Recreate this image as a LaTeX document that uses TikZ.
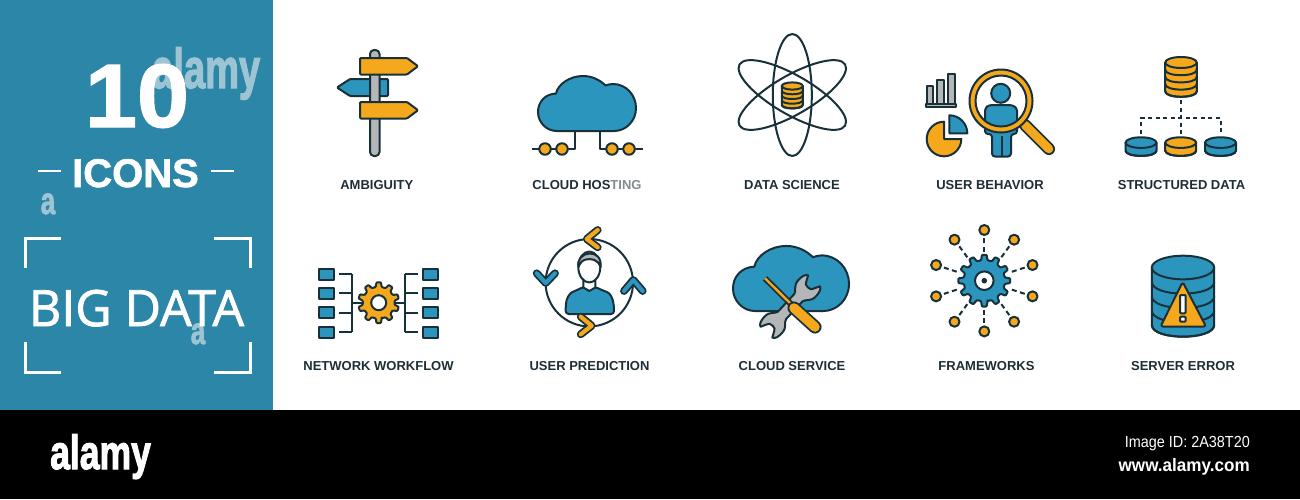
\documentclass[tikz,border=0pt]{standalone}
\usepackage{fontspec}
\setmainfont{Liberation Sans}
\newfontfamily\bannerfont{Open Sans}[FakeBold=1.6]
\newfontfamily\heavyfont{Liberation Sans}[BoldFeatures={FakeBold=1.5}]
\newfontfamily\markfont{Liberation Sans}[BoldFeatures={FakeBold=2.5}]
\usetikzlibrary{calc, positioning}

\definecolor{panelblue}{HTML}{2B86A8}
\definecolor{iconblue}{HTML}{2C95BE}
\definecolor{iconorange}{HTML}{F6A81C}
\definecolor{icongray}{HTML}{B4B6B8}
\definecolor{inkc}{HTML}{17303A}
\definecolor{labelc}{HTML}{1F2E36}
\definecolor{markc}{HTML}{9DC4D3}

% stack of disks: cx, top, half width, ry, layers, layer step, fill
\newcommand{\diskstack}[7]{%
  \begin{scope}[shift={(#1,#2)}]
    \pgfmathsetmacro{\stackh}{#5*#6}
    \pgfmathsetmacro{\stackk}{1.33*#4}
    \draw[inkline, fill=#7] (-#3,0) -- (-#3,\stackh)
      .. controls ({-#3},{\stackh+\stackk}) and (#3,{\stackh+\stackk}) .. (#3,\stackh) -- (#3,0) -- cycle;
    \foreach \lyr in {1,...,#5}
      \draw[inkline] (-#3,{\lyr*#6}) .. controls ({-#3},{\lyr*#6+\stackk}) and (#3,{\lyr*#6+\stackk}) .. (#3,{\lyr*#6});
    \draw[inkline, fill=#7] (0,0) ellipse [x radius=#3, y radius=#4];
  \end{scope}}

% toothed wheel: cx, cy, teeth, outer radius, root radius, fill
\newcommand{\cogwheel}[6]{%
  \begin{scope}[shift={(#1,#2)}]
    \pgfmathsetmacro{\cogstep}{360/#3}
    \draw[inkline, fill=#6, rounded corners=.8pt] ({90-.3*\cogstep}:#5)
      \foreach \k [evaluate=\k as \cogang using 90+(\k-1)*\cogstep] in {1,...,#3} {
        -- ({\cogang-.3*\cogstep}:#5) -- ({\cogang-.17*\cogstep}:#4)
        -- ({\cogang+.17*\cogstep}:#4) -- ({\cogang+.3*\cogstep}:#5)
      } -- cycle;
  \end{scope}}

\tikzset{
  pics/cloudshape/.style={code={
    \draw[inkline, fill=iconblue] (-30,27.5) .. controls (-41,27.5) and (-49,18.5) .. (-49,8.5)
      .. controls (-49,-1.5) and (-42,-9.5) .. (-31,-10)
      .. controls (-29,-19.5) and (-17,-27.5) .. (-4,-27.5)
      .. controls (5,-27.5) and (13,-23.5) .. (18.5,-18)
      .. controls (21,-19) and (24,-19.5) .. (26,-19.5)
      .. controls (39,-19.5) and (49,-8.5) .. (49,4.5)
      .. controls (49,17.5) and (39,27.5) .. (27,27.5) -- cycle;
  }}}

\begin{document}
\begin{tikzpicture}[x=1pt, y=-1pt,
    inkline/.style={draw=inkc, line width=2pt, line join=round},
    iconlabel/.style={font=\bfseries\fontsize{13}{14}\selectfont, text=labelc, inner sep=0pt},
    chevron/.style={draw=inkc, line width=1.8pt, double=#1, double distance=4.2pt,
                    line cap=round, line join=round},
    datacell/.style={inkline, fill=iconblue, minimum width=15pt, minimum height=11pt, inner sep=0pt},
    fwdot/.style={circle, inkline, fill=iconorange, minimum size=10pt, inner sep=0pt},
    wiredot/.style={circle, inkline, fill=iconorange, minimum size=11.5pt, inner sep=0pt},
    spoke/.style={draw=inkc, line width=2pt, dash pattern=on 5pt off 3.5pt},
    corner/.style={draw=white, line width=3pt, line cap=butt},
    watermark/.style={text=markc, font=\markfont\bfseries, inner sep=0pt}]

  \useasboundingbox (0,0) rectangle (1300,499);
  \fill[white] (0,0) rectangle (1300,499);
  \fill[panelblue] (0,0) rectangle (272.5,410);
  \fill[black] (0,410) rectangle (1300,499);

  % Left panel
  \node[watermark, anchor=base west] (markbig) at (152,88) {\fontsize{56}{56}\selectfont\scalebox{.68}[1]{alamy}};
  \node[watermark, anchor=base] (marka) at (48,214) {\fontsize{38}{38}\selectfont\scalebox{.68}[1]{a}};
  \node[watermark, anchor=base] (markb) at (198,344) {\fontsize{38}{38}\selectfont\scalebox{.68}[1]{a}};
  \node[text=white, font=\heavyfont\bfseries\fontsize{90}{90}\selectfont, inner sep=0pt, anchor=base] (tenlabel) at (137,127) {\scalebox{1.04}[1]{10}};
  \node[text=white, font=\heavyfont\bfseries\fontsize{40}{40}\selectfont, inner sep=0pt, anchor=base] (iconslabel) at (135.5,187) {ICONS};
  \draw[draw=white, line width=2pt] (38,171) -- (61,171);
  \draw[draw=white, line width=2pt] (211,171) -- (234,171);
  \draw[corner] (25,268) -- (25,238) -- (61,238);
  \draw[corner] (214,238) -- (250,238) -- (250,268);
  \draw[corner] (25,342) -- (25,372) -- (61,372);
  \draw[corner] (214,372) -- (250,372) -- (250,342);
  \node[text=white, font=\bannerfont\fontsize{50}{50}\selectfont, inner sep=0pt, anchor=base] (biglabel) at (136.5,326) {BIG DATA};

  % Ambiguity
  \draw[inkline, fill=iconblue, rounded corners=1pt] (337,87.5) -- (350,79) -- (388,79) -- (388,96) -- (350,96) -- cycle;
  \draw[inkline, fill=icongray, rounded corners=4pt] (370,156) -- (370,50) -- (379.5,50) -- (379.5,156) -- cycle;
  \foreach \armtop in {58,102}
    \draw[inkline, fill=iconorange, rounded corners=1pt] (360,\armtop) -- (407,\armtop) -- (418,{\armtop+8.2}) -- (407,{\armtop+16.5}) -- (360,{\armtop+16.5}) -- cycle;
  \node[iconlabel] (lbambig) at (376.8,185) {AMBIGUITY};

  % Cloud hosting
  \coordinate (hostl) at (575,131);
  \coordinate (hostr) at (599.5,131);
  \coordinate (hostlend) at (532,149);
  \coordinate (hostrend) at (643,149);
  \draw[inkline] (hostl) |- (hostlend);
  \draw[inkline] (hostr) |- (hostrend);
  \pic (cloudhost) at (587,103.5) {cloudshape};
  \foreach \dotx in {545,562,612,629}
    \node[wiredot] (hostdot\dotx) at (\dotx,149) {};
  \node[iconlabel] (lbhost) at (587,185) {CLOUD HOS\textcolor{labelc!55}{TING}};

  % Data science
  \foreach \tilt in {90,30,-30}
    \draw[inkline] (792.3,95) ellipse [x radius=61, y radius=19.5, rotate=\tilt];
  \diskstack{792.3}{86}{10.5}{3.6}{4}{4.7}{iconorange}
  \node[iconlabel] (lbscience) at (792,185) {DATA SCIENCE};

  % User behavior
  \draw[inkline, fill=icongray] (926.7,105) rectangle (933.3,86);
  \draw[inkline, fill=icongray] (937.3,105) rectangle (944.3,80);
  \draw[inkline, fill=icongray] (948.3,105) rectangle (955.3,74.3);
  \draw[inkline, fill=icongray] (926,103.5) rectangle (956,106.7);
  \draw[inkline, fill=iconorange] (944,139) -- (944,121.7) .. controls (934.45,121.7) and (926.7,129.45) .. (926.7,139)
    .. controls (926.7,148.55) and (934.45,156.3) .. (944,156.3)
    .. controls (953.55,156.3) and (961.3,148.55) .. (961.3,139) -- cycle;
  \draw[inkline, fill=iconblue] (949.3,133.3) -- (949.3,115.3) .. controls (959.2,115.3) and (967.3,123.4) .. (967.3,133.3) -- cycle;
  \draw[inkline, fill=iconblue, rounded corners=3pt] (985,134) -- (985,108) -- (989,105) -- (1012,105) -- (1017,108)
    -- (1017,134) -- (1011,134) -- (1011,156.5) -- (992,156.5) -- (992,134) -- cycle;
  \draw[inkline] (1001.5,136) -- (1001.5,156);
  \draw[inkline, fill=iconblue] (1000.7,93.3) circle [radius=9.5];
  \draw[chevron=iconorange, double distance=8.5pt] (1025,125) -- (1049,149);
  \draw[inkline, fill=iconorange, even odd rule] (1001,101) circle [radius=31.5] (1001,101) circle [radius=25.5];
  \node[iconlabel] (lbbehavior) at (990,185) {USER BEHAVIOR};

  % Structured data
  \coordinate (sdtop) at (1180.7,100);
  \coordinate (sdjoin) at (1180.7,118.3);
  \coordinate (sdleft) at (1141,133.5);
  \coordinate (sdmid) at (1180.7,133.5);
  \coordinate (sdright) at (1220.7,133.5);
  \draw[spoke, dash pattern=on 4pt off 3.5pt] (sdtop) -- (sdmid);
  \draw[spoke, dash pattern=on 4pt off 3.5pt] (sdleft) -- (sdleft |- sdjoin) -- (sdright |- sdjoin) -- (sdright);
  \diskstack{1181}{62.5}{15.8}{5.5}{4}{7.2}{iconorange}
  \diskstack{1141}{142.6}{15.5}{5.3}{1}{8}{iconblue}
  \diskstack{1180.7}{142.6}{15.5}{5.3}{1}{8}{iconorange}
  \diskstack{1220.5}{142.6}{15.5}{5.3}{1}{8}{iconblue}
  \node[iconlabel] (lbstructured) at (1181.5,185) {STRUCTURED DATA};

  % Network workflow
  \coordinate (nwhubl) at (352.3,302.7);
  \coordinate (nwhubr) at (405,302.7);
  \coordinate (nwgear) at (378.7,302.7);
  \foreach \cellnum/\celly in {1/274,2/293.3,3/312.7,4/332} {
    \node[datacell] (nwl\cellnum) at (326.2,\celly) {};
    \node[datacell] (nwr\cellnum) at (430.8,\celly) {};
    \draw[inkline] ([xshift=4pt]nwl\cellnum.east) -- (nwhubl |- nwl\cellnum);
    \draw[inkline] ([xshift=-4pt]nwr\cellnum.west) -- (nwhubr |- nwr\cellnum);
  }
  \draw[inkline] (nwhubl |- nwl1) -- (nwhubl |- nwl4);
  \draw[inkline] (nwhubr |- nwr1) -- (nwhubr |- nwr4);
  \draw[inkline] (nwhubl) -- (nwgear);
  \draw[inkline] (nwhubr) -- (nwgear);
  \cogwheel{378.7}{302.7}{10}{20.5}{16}{iconorange}
  \draw[inkline, fill=white] (nwgear) circle [radius=7.5];
  \node[iconlabel] (lbnetwork) at (378.5,366) {NETWORK WORKFLOW};

  % User prediction
  \draw[inkline] (589.3,282.7) circle [radius=43.7];
  \draw[inkline, fill=iconblue, rounded corners=3pt] (565.7,314) -- (565.7,308) .. controls (566,298) and (570,293) .. (575,291)
    -- (583.3,287) -- (595.3,287) -- (604,291) .. controls (610,293) and (613,298) .. (614,308) -- (614,314) -- cycle;
  \draw[inkline, fill=white] (583.3,278) -- (583.3,287.5) -- (589.3,291) -- (595.3,287.5) -- (595.3,278);
  \draw[inkline, fill=white] (589.3,267) ellipse [x radius=11, y radius=15.5];
  \draw[inkline, fill=icongray] (578.5,267) .. controls (575,251) and (603,247) .. (600.5,267)
    .. controls (598,259) and (591,258.5) .. (586,259.5) .. controls (582.5,260) and (580,263) .. (578.5,267) -- cycle;
  \draw[chevron=iconorange] (597.7,230) -- (586.7,239) -- (597.7,247.3);
  \draw[chevron=iconorange] (580.7,316.7) -- (591.7,325.7) -- (580.7,334.3);
  \draw[chevron=iconblue] (536.7,273.3) -- (545.7,283) -- (555,273.3);
  \draw[chevron=iconblue] (624,291) -- (633.3,280) -- (642.7,291);
  \node[iconlabel] (lbprediction) at (589.5,366) {USER PREDICTION};

  % Cloud service
  \pic[scale=1.184] (cloudservice) at (791,278.5) {cloudshape};
  \begin{scope}[shift={(790.2,306.5)}, rotate=47.2]
    \draw[inkline, fill=icongray] (12,5.5) .. controls (16,6) and (17,12) .. (25,12)
      .. controls (30,12) and (34,11) .. (35,8) -- (29,5) .. controls (25,5) and (25,-5) .. (29,-5)
      -- (35,-8) .. controls (34,-11) and (30,-12) .. (25,-12) .. controls (17,-12) and (16,-6) .. (12,-5.5)
      -- (-12,-5.5) .. controls (-16,-6) and (-17,-12) .. (-25,-12) .. controls (-30,-12) and (-34,-11) .. (-35,-8)
      -- (-29,-5) .. controls (-25,-5) and (-25,5) .. (-29,5) -- (-35,8)
      .. controls (-34,11) and (-30,12) .. (-25,12) .. controls (-17,12) and (-16,6) .. (-12,5.5) -- cycle;
  \end{scope}
  \draw[chevron=iconorange, double distance=2.4pt, line cap=butt] (765,278.3) -- (792,305);
  \draw[chevron=iconorange, double distance=9.5pt] (794,308) -- (815,327);
  \node[iconlabel] (lbservice) at (792,366) {CLOUD SERVICE};

  % Frameworks
  \coordinate (fwhub) at (984.3,280.7);
  \foreach \fwang [count=\fwnum] in {18,54,...,342} {
    \node[fwdot] (fw\fwnum) at ($(fwhub)+(\fwang:50.7)$) {};
    \draw[spoke] ($(fwhub)!29pt!(fw\fwnum)$) -- ($(fwhub)!43pt!(fw\fwnum)$);
  }
  \cogwheel{984.3}{280.7}{12}{26}{20.7}{iconblue}
  \draw[inkline, fill=white] (fwhub) circle [radius=9.3];
  \fill[inkc] (fwhub) circle [radius=2.8];
  \node[iconlabel] (lbframeworks) at (986.5,366) {FRAMEWORKS};

  % Server error
  \diskstack{1183}{267.5}{31.2}{11.8}{4}{14.35}{iconblue}
  \draw[inkline, fill=iconorange, rounded corners=2.5pt] (1182.7,282) -- (1206,326.5) -- (1160.5,326.5) -- cycle;
  \draw[inkline, fill=white, rounded corners=1pt] (1180,295) rectangle (1185.7,313.3);
  \draw[inkline, fill=white, rounded corners=1pt] (1180,316.7) rectangle (1185.7,321.7);
  \node[iconlabel] (lberror) at (1183,366) {SERVER ERROR};

  % Footer
  \node[text=white, font=\markfont\bfseries\fontsize{48}{48}\selectfont, inner sep=0pt, anchor=base west] (logo) at (50,469) {\scalebox{.74}[1]{alamy}};
  \node[text=white, font=\fontsize{16}{17}\selectfont, inner sep=0pt, anchor=base east] (imageid) at (1250,447) {\scalebox{.9}[1]{Image ID: 2A38T20}};
  \node[text=white, font=\bfseries\fontsize{18}{19}\selectfont, inner sep=0pt, anchor=base east] (website) at (1250,471) {\scalebox{.95}[1]{www.alamy.com}};
\end{tikzpicture}
\end{document}
